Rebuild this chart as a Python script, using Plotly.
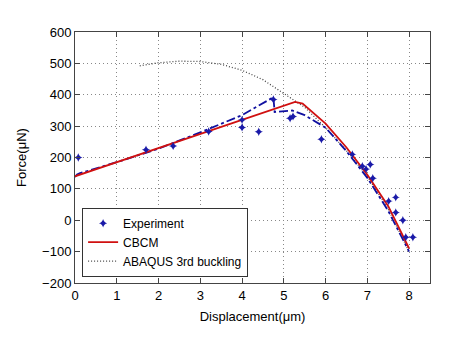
import plotly.graph_objects as go

# Experiment data
exp_x = [0.08, 1.7, 2.35, 3.2, 4.0, 4.0, 4.4, 4.75, 5.15, 5.22, 5.9, 6.64, 6.88, 6.97, 7.07, 7.13, 7.51, 7.68, 7.68, 7.85, 7.92, 8.09]
exp_y = [200, 225, 237, 283, 320, 296, 282, 385, 325, 331, 258, 210, 172, 163, 178, 134, 61, 73, 25, 0, -54, -54]

# CBCM model
cbcm_x = [0, 5.27, 5.45, 6.0, 6.5, 7.0, 7.5, 8.0]
cbcm_y = [140, 377, 372, 308, 232, 145, 45, -90]

# Dash-dot (unlabelled) curve
dd_x = [0, 0.05, 0.12, 1.0, 2.0, 3.0, 4.0, 4.75, 4.78, 5.0, 5.2, 5.5, 5.8, 6.0, 6.5, 7.0, 7.5, 8.0]
dd_y = [138, 146, 150, 185, 228, 280, 335, 392, 345, 348, 350, 335, 310, 295, 220, 135, 30, -100]

# ABAQUS 3rd buckling
ab_x = [1.55, 2.0, 2.5, 3.0, 3.5, 4.0, 4.5, 5.0, 5.3, 5.5, 6.0, 6.5, 7.0, 7.5, 8.0]
ab_y = [492, 502, 507, 506, 497, 478, 448, 405, 378, 360, 295, 222, 140, 35, -100]

x_ticks = [0, 1, 2, 3, 4, 5, 6, 7, 8]
y_ticks = [-200, -100, 0, 100, 200, 300, 400, 500, 600]

fig = go.Figure()
fig.add_trace(go.Scatter(x=ab_x, y=ab_y, mode="lines", name="ABAQUS 3rd buckling",
                         line=dict(color="#444444", width=1.3, dash="1px,2px"), showlegend=False))
fig.add_trace(go.Scatter(x=dd_x, y=dd_y, mode="lines", name="dashdot",
                         line=dict(color="#1010a0", width=1.8, dash="dashdot"), showlegend=False))
fig.add_trace(go.Scatter(x=cbcm_x, y=cbcm_y, mode="lines", name="CBCM",
                         line=dict(color="#d01010", width=1.8), showlegend=False))
fig.add_trace(go.Scatter(x=exp_x, y=exp_y, mode="markers", name="Experiment",
                         marker=dict(symbol="star-diamond", size=6, color="#1a1aa8"), showlegend=False))
# legend entries in order
fig.add_trace(go.Scatter(x=[None], y=[None], mode="markers", name="Experiment",
                         marker=dict(symbol="star-diamond", size=6, color="#1a1aa8")))
fig.add_trace(go.Scatter(x=[None], y=[None], mode="lines", name="CBCM",
                         line=dict(color="#d01010", width=1.8)))
fig.add_trace(go.Scatter(x=[None], y=[None], mode="lines", name="ABAQUS 3rd buckling",
                         line=dict(color="#444444", width=1.3, dash="1px,2px")))

axis_common = dict(showline=True, linecolor="#444444", linewidth=1, mirror="ticks",
                   ticks="inside", ticklen=5, tickcolor="#444444",
                   showgrid=True, gridcolor="#888888", griddash="1px,3px", gridwidth=1,
                   zeroline=False, tickfont=dict(size=13, color="black"))

fig.update_layout(
    width=474, height=339,
    margin=dict(l=75, r=44, t=32, b=56),
    paper_bgcolor="white", plot_bgcolor="white",
    font=dict(family="Liberation Sans, Arial, sans-serif", size=13, color="black"),
    xaxis=dict(range=[0, 8.5], tickvals=x_ticks,
               title=dict(text="Displacement(μm)", font=dict(size=13), standoff=10), **axis_common),
    yaxis=dict(range=[-200, 600], tickvals=y_ticks,
               title=dict(text="Force(μN)", font=dict(size=13), standoff=12), **axis_common),
    legend=dict(x=0.02, y=0.3, xanchor="left", yanchor="top",
                bgcolor="white", bordercolor="#333333", borderwidth=1,
                font=dict(size=12), tracegroupgap=0, itemwidth=30),
)

fig.write_html("out.html")
